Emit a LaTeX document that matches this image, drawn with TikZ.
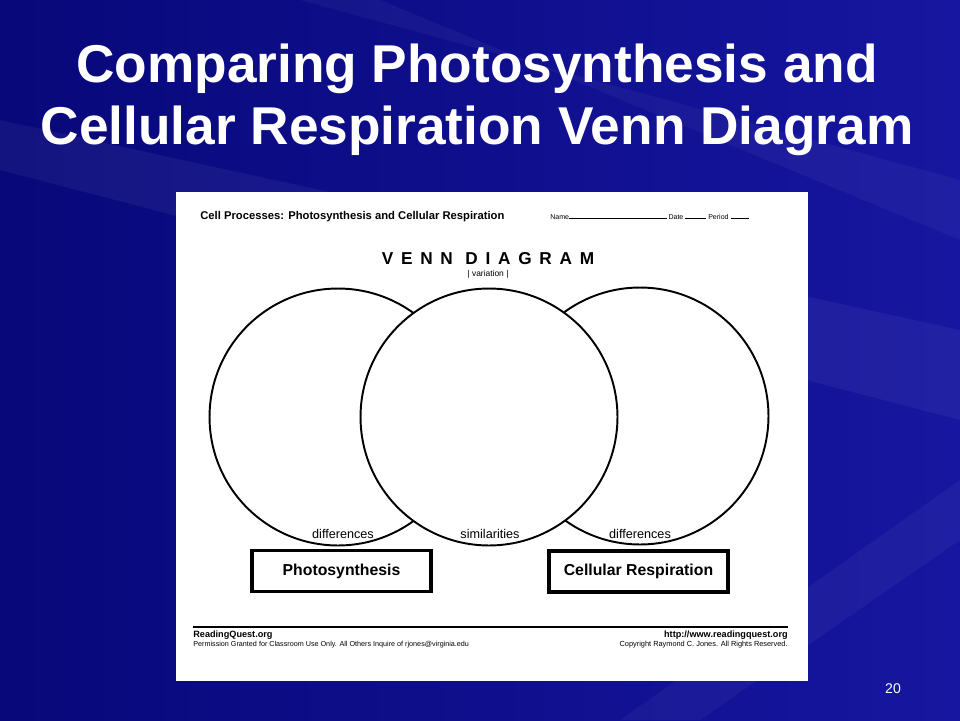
\documentclass[tikz,border=0pt]{standalone}
\usepackage{fontspec}
\setmainfont{Liberation Sans}
\newfontfamily\spacedfont[LetterSpace=45]{Liberation Sans}
\usetikzlibrary{positioning}
\definecolor{slidedark}{RGB}{8,8,122}
\definecolor{slidelight}{RGB}{22,22,160}

\begin{document}
\begin{tikzpicture}[
  x=0.02cm, y=-0.02cm,
  title/.style={text=white, font=\bfseries\fontsize{30.3}{34}\selectfont, inner sep=0pt},
  venn/.style={draw, circle, line width=1.1pt, minimum size=5.14cm, inner sep=0pt},
  tag/.style={font=\fontsize{7.2}{8}\selectfont, inner sep=1pt},
  namebox/.style={draw, line width=1.8pt, minimum width=3.58cm, minimum height=0.82cm, font=\bfseries\fontsize{9}{10}\selectfont},
  small/.style={inner sep=0pt, font=\fontsize{#1}{#1}\selectfont}
]
\useasboundingbox (0,0) rectangle (960,720);

% slide background
\shade[left color=slidedark, right color=slidelight] (0,0) rectangle (960,720);
\fill[white, opacity=0.05] (0,120) -- (960,330) -- (960,420) -- (0,170) -- cycle;
\fill[white, opacity=0.04] (300,0) -- (960,180) -- (960,240) -- (380,0) -- cycle;
\fill[white, opacity=0.04] (620,720) -- (960,480) -- (960,540) -- (700,720) -- cycle;

\node[title, anchor=base] (title1) at (477,82) {Comparing Photosynthesis and};
\node[title, anchor=base] (title2) at (477,144) {Cellular Respiration Venn Diagram};

% worksheet
\fill[white] (176,192) rectangle (808,681);

\node[small=6.4, anchor=base west, font=\bfseries\fontsize{6.4}{7}\selectfont] (sheet) at (200,219) {Cell Processes: Photosynthesis and Cellular Respiration};
\node[small=4, anchor=base west] (namefield) at (550,219) {Name\rule{1.95cm}{0.3pt} Date \rule{0.42cm}{0.3pt} Period \rule{0.36cm}{0.3pt}};

\node[inner sep=0pt, anchor=base, font=\spacedfont\bfseries\fontsize{9.8}{10}\selectfont] (heading) at (488,264) {VENN DIAGRAM};
\node[small=4.8, below=0.12cm of heading] (variation) {| variation |};

\node[venn] (photo) at (338,417) {};
\node[venn] (resp) at (640,416) {};
\node[venn, fill=white] (both) at (489,417) {};

\node[tag] (diffL) at (343,534) {differences};
\node[tag] (simil) at (490,534) {similarities};
\node[tag] (diffR) at (640,534) {differences};

\node[namebox] (photobox) at (341.5,571) {Photosynthesis};
\node[namebox] (respbox) at (638.5,571.5) {Cellular Respiration};

% footer
\coordinate (ruleL) at (193,627);
\coordinate (ruleR) at (788,627);
\draw[line width=1.4pt] (ruleL) -- (ruleR);
\node[small=5, anchor=base west, font=\bfseries\fontsize{5.2}{5}\selectfont] (site) at (193,637) {ReadingQuest.org};
\node[small=4.1, anchor=base west] (permit) at (193,646) {Permission Granted for Classroom Use Only. All Others Inquire of rjones@virginia.edu};
\node[small=5, anchor=base east, font=\bfseries\fontsize{5.2}{5}\selectfont] (url) at (788,637) {http://www.readingquest.org};
\node[small=4.2, anchor=base east] (copy) at (788,646) {Copyright Raymond C. Jones. All Rights Reserved.};

\node[text=white, inner sep=0pt, font=\fontsize{8}{9}\selectfont] (pagenum) at (893,689) {20};
\end{tikzpicture}
\end{document}
